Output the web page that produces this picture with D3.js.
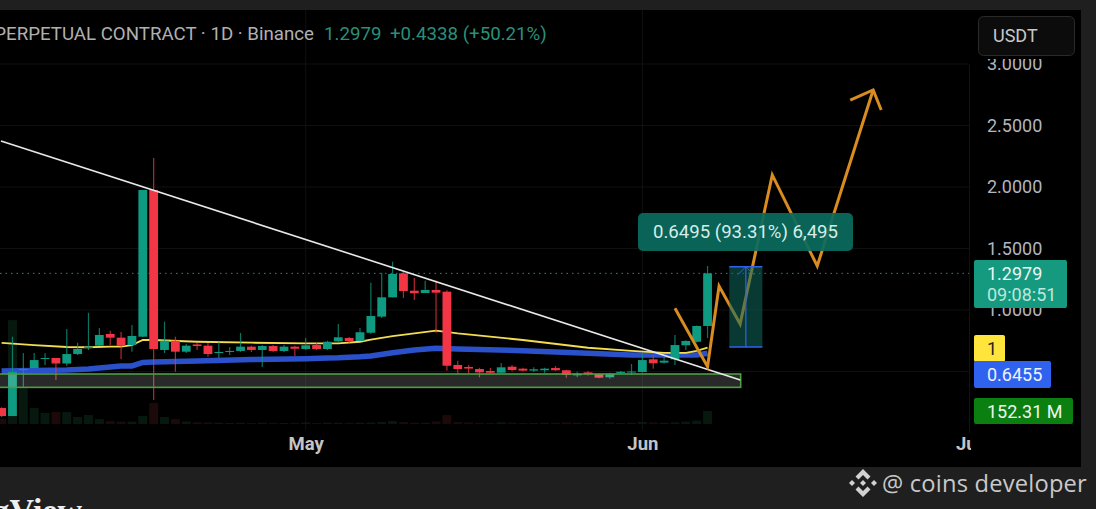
<!DOCTYPE html>
<html>
<head>
<meta charset="utf-8">
<script src="https://cdn.jsdelivr.net/npm/d3@7"></script>
<style>
  html, body { margin: 0; padding: 0; background: #1f1f1f; overflow: hidden; }
  svg { display: block; font-family: Roboto, sans-serif; }
</style>
</head>
<body>
<script>
// daily candles, first one is 28 days before May 1
var firstCandleDay = -28;
var opens = [.203,.138,.512,.528,.602,.610,.565,.642,.691,.710,.805,.775,.715,.783,1.976,.675,.750,.661,.720,.710,.650,.659,.667,.702,.675,.707,.667,.702,.683,.715,.683,.745,.772,.748,.815,.946,1.103,1.298,1.157,1.138,1.163,1.149,.553,.537,.520,.504,.490,.539,.523,.507,.510,.528,.510,.469,.493,.480,.453,.488,.492,.496,.599,.572,.599,.713,.742,.870];
var highs = [.210,.783,.650,.650,.650,.610,.846,.734,.978,.854,.832,.821,.878,1.976,2.236,.905,.783,.724,.734,.732,.742,.699,.813,.710,.715,.715,.715,.710,.772,.732,.750,.886,.780,.854,1.222,1.303,1.393,1.310,1.260,1.238,1.238,1.160,.588,.553,.530,.528,.569,.553,.530,.534,.530,.545,.515,.498,.504,.485,.490,.504,.561,.650,.634,.618,.797,.755,.875,1.358];
var lows = [.130,.138,.374,.528,.553,.431,.545,.634,.675,.707,.715,.602,.661,.780,.268,.650,.498,.650,.675,.620,.610,.634,.659,.659,.537,.659,.659,.626,.675,.675,.675,.740,.724,.748,.805,.935,1.103,1.098,1.081,1.138,.815,.507,.480,.485,.453,.485,.485,.502,.500,.496,.490,.505,.450,.453,.467,.445,.441,.480,.472,.490,.523,.565,.553,.675,.735,.772];
var closes = [.138,.498,.520,.593,.610,.565,.642,.683,.703,.797,.775,.710,.789,1.976,.683,.750,.661,.710,.707,.642,.659,.667,.702,.675,.707,.667,.702,.685,.713,.683,.742,.778,.748,.819,.951,1.103,1.293,1.154,1.136,1.163,1.141,.547,.520,.524,.493,.490,.534,.512,.507,.518,.523,.510,.472,.482,.477,.450,.482,.498,.500,.593,.567,.588,.715,.748,.870,1.298];
var volumes = [60,1217,421,187,129,140,140,82,105,58,35,28,28,94,246,82,58,30,20,18,14,12,14,12,16,14,12,14,18,12,16,14,14,16,18,24,34,22,16,14,30,105,24,18,12,12,20,16,12,12,14,14,18,14,12,14,18,12,14,24,18,14,20,28,40,152];

// moving averages, read at these days only
var maDays = [-28,-25,-22,-20,-18,-17,-16,-15,-14,-10,-5,0,2,3,5,6,8,10,12,14,20,26,30,33,35,36,37];
var maYellow = [.733,.714,.699,.697,.702,.703,.715,.756,.756,.742,.734,.729,.729,.729,.742,.760,.788,.810,.832,.810,.756,.693,.668,.652,.652,.668,.695];
var maBlue = [.504,.508,.512,.520,.537,.545,.545,.574,.577,.585,.598,.604,.610,.612,.620,.626,.652,.675,.689,.683,.669,.648,.634,.634,.634,.634,.648];

// drawings on the chart
var trendDays = [-28.06, 40.02];
var trendPrices = [2.374, .431];
var zoneDays = [-30, 40.05];
var zonePrices = [.4797, .3711];
var pathDays = [34,37,38.06,40,42.96,47.1,52.25];
var pathPrices = [1.014,.539,1.195,.886,2.098,1.358,2.789];
var arrowDays = [50.14,52.25,52.99];
var arrowPrices = [2.707,2.789,2.626];
var measureDays = [39,42.05];
var measurePrices = [1.352,.699];

var gridPrices = [.5,1,1.5,2,2.5,3];
var priceTicks = [1,1.5,2,2.5,3];
var lastPrice = 1.2979;

var may1 = new Date(Date.UTC(2024, 4, 1));
// days can be fractional for the drawings
function day(n) { return new Date(may1.getTime() + n * 864e5); }

var xScale = d3.scaleUtc().domain([may1, day(61)]).range([305.7, 968.2]);
var yScale = d3.scaleLinear().domain([0, 3]).range([433, 64]);
// volume pane sits at the bottom of the chart
var volScale = d3.scaleLinear().domain([0, 152.31]).range([424, 411]);

var svg = d3.select("body").append("svg").attr("width", 1096).attr("height", 509);
var defs = svg.append("defs");
defs.append("clipPath").attr("id", "plot").append("rect").attr("x", 0).attr("y", 10).attr("width", 969).attr("height", 457);
defs.append("clipPath").attr("id", "timeclip").append("rect").attr("x", 0).attr("y", 430).attr("width", 971).attr("height", 37);

svg.append("rect").attr("width", 1096).attr("height", 509).attr("fill", "#1f1f1f");
svg.append("rect").attr("x", 0).attr("y", 10).attr("width", 1081).attr("height", 457).attr("fill", "#000");

var plot = svg.append("g").attr("clip-path", "url(#plot)");

// grid
plot.selectAll(".hgrid").data(gridPrices).enter().append("line")
  .attr("x1", 0).attr("x2", 969)
  .attr("y1", function(d) { return yScale(d); }).attr("y2", function(d) { return yScale(d); })
  .attr("stroke", "#101010");
plot.selectAll(".vgrid").data([day(0), day(31)]).enter().append("line")
  .attr("x1", function(d) { return xScale(d); }).attr("x2", function(d) { return xScale(d); })
  .attr("y1", 10).attr("y2", 430)
  .attr("stroke", "#101010");

var candles = opens.map(function(o, i) {
  return { date: day(firstCandleDay + i), o: o, h: highs[i], l: lows[i], c: closes[i], v: volumes[i] };
});
var greenCol = "#0f9b82", redCol = "#f23645";
function col(d) { return d.c >= d.o ? greenCol : redCol; }

// volume
plot.selectAll(".vol").data(candles).enter().append("rect")
  .attr("x", function(d) { return xScale(d.date) - 4.5; })
  .attr("width", 9)
  .attr("y", function(d) { return volScale(d.v); })
  .attr("height", function(d) { return 424 - volScale(d.v); })
  .attr("fill", function(d) { return d.c >= d.o ? "#07180f" : "#1c0a0a"; });

// last price dotted line
plot.append("line").attr("x1", 0).attr("x2", 969)
  .attr("y1", yScale(lastPrice)).attr("y2", yScale(lastPrice))
  .attr("stroke", "#2b8a76").attr("stroke-dasharray", "1.5 4");

var line = d3.line()
  .x(function(d) { return xScale(day(d[0])); })
  .y(function(d) { return yScale(d[1]); });

plot.append("path").attr("d", line(d3.zip(maDays, maBlue)))
  .attr("fill", "none").attr("stroke", "#2a51c9").attr("stroke-width", 5.5);
plot.append("path").attr("d", line(d3.zip(maDays, maYellow)))
  .attr("fill", "none").attr("stroke", "#f2dc50").attr("stroke-width", 1.8);

// candles
plot.selectAll(".wick").data(candles).enter().append("line")
  .attr("x1", function(d) { return xScale(d.date); }).attr("x2", function(d) { return xScale(d.date); })
  .attr("y1", function(d) { return yScale(d.h); }).attr("y2", function(d) { return yScale(d.l); })
  .attr("stroke", col).attr("stroke-opacity", .75).attr("stroke-width", 1.2);
plot.selectAll(".body").data(candles).enter().append("rect")
  .attr("x", function(d) { return xScale(d.date) - 4.4; })
  .attr("width", 8.8)
  .attr("y", function(d) { return yScale(Math.max(d.o, d.c)); })
  .attr("height", function(d) { return Math.max(1, Math.abs(yScale(d.o) - yScale(d.c))); })
  .attr("fill", col);

// support zone
plot.append("rect")
  .attr("x", xScale(day(zoneDays[0]))).attr("width", xScale(day(zoneDays[1])) - xScale(day(zoneDays[0])))
  .attr("y", yScale(zonePrices[0])).attr("height", yScale(zonePrices[1]) - yScale(zonePrices[0]))
  .attr("fill", "rgba(255,255,255,.16)").attr("stroke", "#4d9e45").attr("stroke-width", 1.6);

// trend line
plot.append("path").attr("d", line(d3.zip(trendDays, trendPrices)))
  .attr("fill", "none").attr("stroke", "#e8e8e8").attr("stroke-width", 1.6);

// projected path
plot.append("path").attr("d", line(d3.zip(pathDays, pathPrices)))
  .attr("fill", "none").attr("stroke", "#d98c1f").attr("stroke-width", 3);
plot.append("path").attr("d", line(d3.zip(arrowDays, arrowPrices)))
  .attr("fill", "none").attr("stroke", "#d98c1f").attr("stroke-width", 3);

// measure box
var mx0 = xScale(day(measureDays[0])), mx1 = xScale(day(measureDays[1]));
var my0 = yScale(measurePrices[0]), my1 = yScale(measurePrices[1]);
plot.append("rect").attr("x", mx0).attr("y", my0).attr("width", mx1 - mx0).attr("height", my1 - my0)
  .attr("fill", "#0f6a5c").attr("fill-opacity", .55);
plot.selectAll(".mline").data([my0, my1]).enter().append("line")
  .attr("x1", mx0).attr("x2", mx1)
  .attr("y1", function(d) { return d; }).attr("y2", function(d) { return d; })
  .attr("stroke", "#2f62ee").attr("stroke-width", 1.5);
var mmid = (mx0 + mx1) / 2;
plot.append("line").attr("x1", mmid).attr("x2", mmid).attr("y1", my0).attr("y2", my1)
  .attr("stroke", "#2f62ee").attr("stroke-width", 1.2);
plot.append("path").attr("d", "M" + (mmid - 8) + "," + (my0 + 8) + "L" + mmid + "," + my0 + "L" + (mmid + 8) + "," + (my0 + 8))
  .attr("fill", "none").attr("stroke", "#2f62ee").attr("stroke-width", 1);

// measure label
svg.append("rect").attr("x", 638).attr("y", 213).attr("width", 215).attr("height", 38).attr("rx", 5)
  .attr("fill", "#0a6b5e").attr("fill-opacity", .93);
svg.append("text").attr("x", 745.5).attr("y", 238).attr("text-anchor", "middle")
  .attr("font-size", 18.6).attr("fill", "#d6ece8").text("0.6495 (93.31%) 6,495");

// axes
var yAxis = d3.axisRight(yScale).tickValues(priceTicks).tickFormat(d3.format(".4f")).tickSize(0).tickPadding(18);
var yG = svg.append("g").attr("transform", "translate(969,0)").call(yAxis);
yG.select(".domain").attr("stroke", "#121212");
yG.selectAll("text").attr("font-size", 18).attr("font-family", "Roboto, sans-serif").attr("fill", "#b2b5be");

var xAxis = d3.axisBottom(xScale).tickValues([day(0), day(31), day(61)]).tickFormat(d3.utcFormat("%b")).tickSize(0).tickPadding(0);
var xG = svg.append("g").attr("clip-path", "url(#timeclip)").append("g").attr("transform", "translate(0,437)").call(xAxis);
xG.select(".domain").remove();
xG.selectAll("text").attr("font-size", 18.5).attr("font-weight", 700).attr("font-family", "Roboto, sans-serif").attr("fill", "#c4c4c4");

// header covers the top of the scale
svg.append("rect").attr("x", 970).attr("y", 10).attr("width", 111).attr("height", 49).attr("fill", "#000");
svg.append("rect").attr("x", 978.5).attr("y", 16.5).attr("width", 96).attr("height", 39).attr("rx", 5)
  .attr("fill", "#0c0c0c").attr("stroke", "#2a2a2a");
svg.append("text").attr("x", 993).attr("y", 42).attr("font-size", 18).attr("fill", "#c8c8c8").text("USDT");

svg.append("text").attr("x", 314).attr("y", 40).attr("text-anchor", "end")
  .attr("font-size", 18.7).attr("fill", "#b0b0b0").text("PERPETUAL CONTRACT · 1D · Binance");
svg.append("text").attr("x", 324).attr("y", 40).attr("font-size", 18.7).attr("fill", "#2a8f7a").text("1.2979");
svg.append("text").attr("x", 390).attr("y", 40).attr("font-size", 18.7).attr("fill", "#2a8f7a").text("+0.4338 (+50.21%)");

// price tags
svg.append("rect").attr("x", 974).attr("y", 260).attr("width", 93).attr("height", 48).attr("rx", 2).attr("fill", "#159a80");
svg.append("text").attr("x", 987).attr("y", 280).attr("font-size", 18).attr("fill", "#eaf6f3").text("1.2979");
svg.append("text").attr("x", 987).attr("y", 301).attr("font-size", 18).attr("fill", "#bfe6dd").text("09:08:51");
svg.append("rect").attr("x", 974).attr("y", 335).attr("width", 31).attr("height", 27).attr("rx", 2).attr("fill", "#ffe53b");
svg.append("text").attr("x", 987).attr("y", 355).attr("font-size", 18).attr("fill", "#222").text("1");
svg.append("rect").attr("x", 974).attr("y", 361).attr("width", 77).attr("height", 27).attr("rx", 2).attr("fill", "#2f62ee");
svg.append("text").attr("x", 987).attr("y", 381).attr("font-size", 18).attr("fill", "#eef2ff").text("0.6455");
svg.append("rect").attr("x", 974).attr("y", 398).attr("width", 99).attr("height", 26).attr("rx", 2).attr("fill", "#0c7f11");
svg.append("text").attr("x", 987).attr("y", 418).attr("font-size", 18).attr("fill", "#eef7ee").text("152.31 M");

// watermark
var logo = svg.append("g").attr("transform", "translate(863,483)").attr("fill", "#d2d2d2");
logo.append("path").attr("d", "M0,-14L7.5,-6.5L4.5,-3.5L0,-8L-4.5,-3.5L-7.5,-6.5Z");
logo.append("path").attr("d", "M0,14L7.5,6.5L4.5,3.5L0,8L-4.5,3.5L-7.5,6.5Z");
logo.append("path").attr("d", "M0,-3L3,0L0,3L-3,0Z");
logo.append("path").attr("d", "M-11,-3L-8,0L-11,3L-14,0Z");
logo.append("path").attr("d", "M11,-3L14,0L11,3L8,0Z");
svg.append("text").attr("x", 1087).attr("y", 492).attr("text-anchor", "end")
  .attr("font-family", "'Open Sans', sans-serif").attr("font-size", 23.7).attr("letter-spacing", .2)
  .attr("fill", "#c9c9c9").text("@ coins developer");

// cut-off site name at the bottom
svg.append("text").attr("x", 82).attr("y", 522).attr("text-anchor", "end")
  .attr("font-family", "'Liberation Serif', serif").attr("font-weight", 700).attr("font-size", 34)
  .attr("fill", "#eee").text("TradingView");
</script>
</body>
</html>
